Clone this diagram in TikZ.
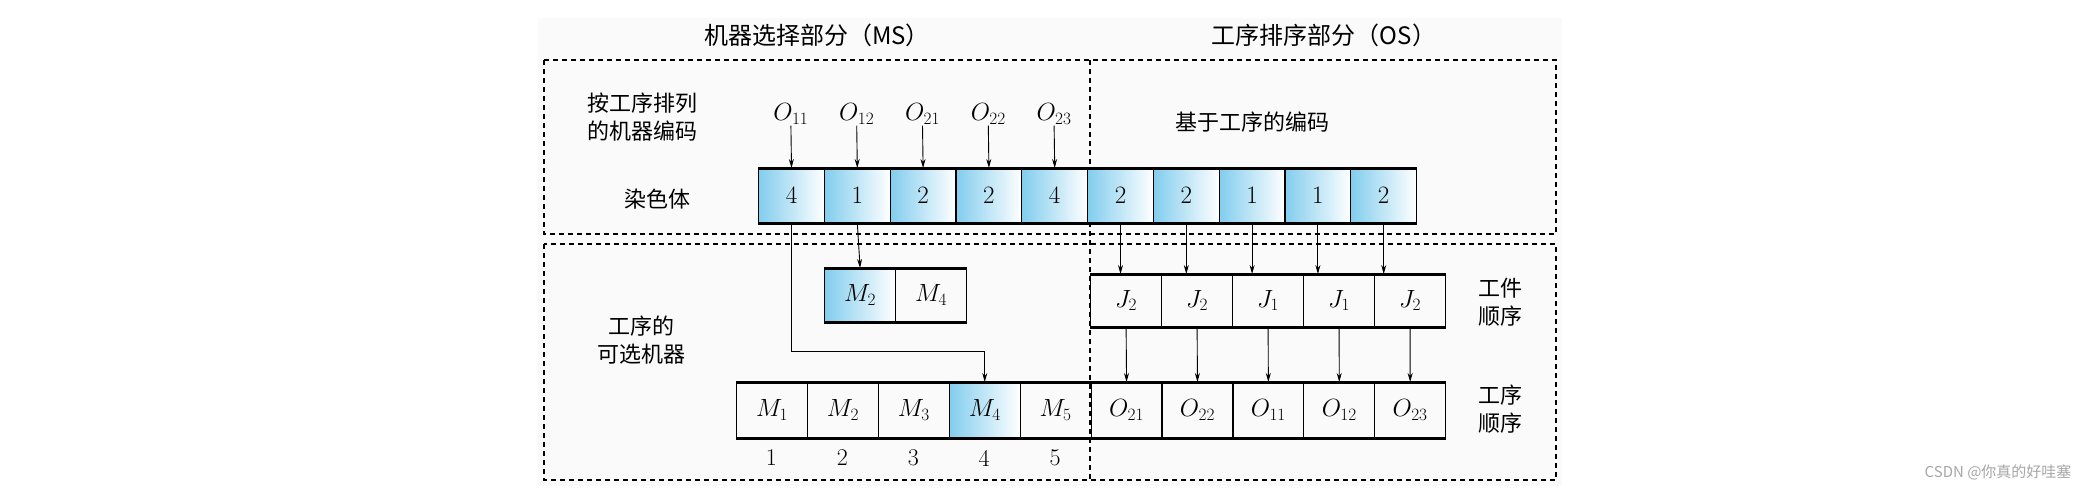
\documentclass[tikz,border=0pt]{standalone}
\usepackage{fontspec}
\newfontfamily\cjk{Noto Sans CJK SC}
\usetikzlibrary{arrows.meta}
\definecolor{cellblue}{RGB}{130,205,238}
\tikzset{
  cell/.style={draw=black,line width=1.2pt,inner sep=0pt,anchor=north west,font=\fontsize{25}{27}\selectfont},
  grad/.style={left color=cellblue,right color=white,shading angle=90},
  lbl/.style={font=\cjk\fontsize{22}{28}\selectfont,align=center},
  arr/.style={line width=0.9pt,-{Stealth[length=9pt,width=5pt]}},
  frame/.style={line width=1.3pt,dash pattern=on 5pt off 4pt},
  thk/.style={line width=3pt}
}
\begin{document}
\begin{tikzpicture}[x=1pt,y=-1pt]
\useasboundingbox (0,0) rectangle (2087,493);
\fill[gray!4] (538,18) rectangle (1562,486);
% titles
\node[lbl,font=\cjk\fontsize{24}{28}\selectfont] (t1) at (817,35) {机器选择部分（MS）};
\node[lbl,font=\cjk\fontsize{24}{28}\selectfont] (t2) at (1324,35) {工序排序部分（OS）};
% frames
\draw[frame] (544,60) rectangle (1556,234);
\draw[frame] (544,244) rectangle (1556,480);
\draw[frame] (1090,60) -- (1090,480);
% labels
\node[lbl] (l1) at (642,117) {按工序排列\\的机器编码};
\node[lbl] (l2) at (657,199) {染色体};
\node[lbl] (l3) at (1252,122) {基于工序的编码};
\node[lbl] (l4) at (641,340) {工序的\\可选机器};
\node[lbl] (l5) at (1500,302) {工件\\顺序};
\node[lbl] (l6) at (1500,409) {工序\\顺序};
% chromosome
\foreach \v [count=\i] in {4,1,2,2,4,2,2,1,1,2}{
  \node[cell,grad,minimum width=65.8pt,minimum height=54pt] (c\i) at ({758+(\i-1)*65.8},168) {\v};
}
\draw[thk] (c1.north west) -- (c10.north east);
\draw[thk] (c1.south west) -- (c10.south east);
\foreach \s [count=\i] in {11,12,21,22,23}{
  \node[font=\fontsize{24}{26}\selectfont,inner sep=1pt] (o\i) at ({758+(\i-0.5)*65.8},114) {$O_{\s}$};
  \draw[arr] (o\i.south) -- (c\i.north);
}
% machine options
\node[cell,grad,minimum width=71pt,minimum height=53pt] (m1) at (824,268) {$M_2$};
\node[cell,minimum width=71pt,minimum height=53pt] (m2) at (895,268) {$M_4$};
\draw[thk] (m1.north west) -- (m2.north east);
\draw[thk] (m1.south west) -- (m2.south east);
\draw[arr] (c2.south) -- (m1.north);
% job row
\foreach \s [count=\i] in {2,2,1,1,2}{
  \node[cell,minimum width=71pt,minimum height=52pt] (j\i) at ({1090+(\i-1)*71},274) {$J_{\s}$};
}
\draw[thk] (j1.north west) -- (j5.north east);
\draw[thk] (j1.south west) -- (j5.south east);
\foreach \i [evaluate=\i as \k using int(\i+5)] in {1,...,5}{
  \draw[arr] (c\k.south) -- (c\k.south |- j1.north);
}
% bottom row
\foreach \s [count=\i] in {M_1,M_2,M_3,M_4,M_5,O_{21},O_{22},O_{11},O_{12},O_{23}}{
  \node[cell,minimum width=70.9pt,minimum height=55pt] (b\i) at ({736+(\i-1)*70.9},382) {$\s$};
}
\node[cell,grad,minimum width=70.9pt,minimum height=55pt] (b4) at ({736+3*70.9},382) {$M_4$};
\draw[thk] (b1.north west) -- (b10.north east);
\draw[thk] (b1.south west) -- (b10.south east);
\foreach \i [evaluate=\i as \k using int(\i+5)] in {1,...,5}{
  \draw[arr] (j\i.south) -- (b\k.north);
  \node[font=\fontsize{24}{26}\selectfont] (n\i) at ({736+(\i-0.5)*70.9},458) {\i};
}
\coordinate (bend) at (c1.south |- 0,351);
\draw[arr] (c1.south) -- (bend) -| (b4.north);
% watermark
\node[font=\cjk\fontsize{15}{17}\selectfont,text=gray!70,anchor=east] (wm) at (2075,472) {CSDN @你真的好哇塞};
\end{tikzpicture}
\end{document}
